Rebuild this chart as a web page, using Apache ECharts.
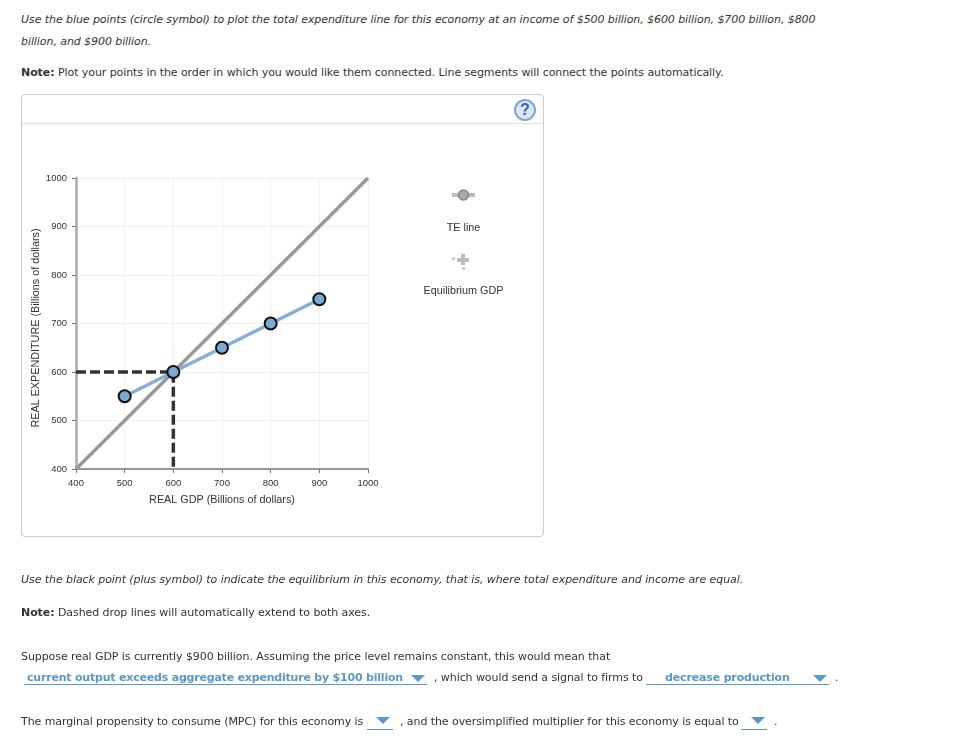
<!DOCTYPE html>
<html><head><meta charset="utf-8">
<script src="https://cdn.jsdelivr.net/npm/echarts@6/dist/echarts.min.js"></script>
<style>
html,body{margin:0;padding:0;background:#fff;}
body{width:969px;height:745px;overflow:hidden;position:relative;font-family:"DejaVu Sans",Verdana,sans-serif;font-size:11px;color:#333;letter-spacing:-0.075px;}
.t{position:absolute;white-space:nowrap;line-height:14px;}
.i{font-style:italic;}
.d{position:absolute;border-bottom:1px solid #5b97c9;height:14px;color:#5b97c9;font-weight:bold;white-space:nowrap;line-height:14px;}
.a{position:absolute;width:0;height:0;border-left:7px solid transparent;border-right:7px solid transparent;border-top:7px solid #5b97c9;}
#card{position:absolute;left:21px;top:94px;width:521px;height:441px;border:1px solid #ccc;border-radius:4px;box-sizing:content-box;}
#hr{position:absolute;left:22px;top:123px;width:521px;height:1px;background:#ddd;}
#help{position:absolute;left:514px;top:99px;width:18px;height:18px;border:2px solid #7fa6d0;border-radius:50%;background:#dbe7f3;color:#2f6ba8;font:bold 16px/18px "Liberation Sans",Arial,sans-serif;text-align:center;letter-spacing:0;}
#chart{position:absolute;left:0;top:0;width:969px;height:745px;letter-spacing:0;}
</style></head><body>
<div class="t i" style="left:21px;top:13px">Use the blue points (circle symbol) to plot the total expenditure line for this economy at an income of $500 billion, $600 billion, $700 billion, $800</div>
<div class="t i" style="left:21px;top:35px">billion, and $900 billion.</div>
<div class="t" style="left:21px;top:66px"><b>Note:</b> Plot your points in the order in which you would like them connected. Line segments will connect the points automatically.</div>
<div id="card"></div><div id="hr"></div><div id="help">?</div>
<div id="chart"></div>
<div class="t i" style="left:21px;top:573px">Use the black point (plus symbol) to indicate the equilibrium in this economy, that is, where total expenditure and income are equal.</div>
<div class="t" style="left:21px;top:606px"><b>Note:</b> Dashed drop lines will automatically extend to both axes.</div>
<div class="t" style="left:21px;top:650px">Suppose real GDP is currently $900 billion. Assuming the price level remains constant, this would mean that</div>
<div class="d" style="left:24px;top:671px;width:403px;padding-left:3px;box-sizing:border-box;letter-spacing:-0.2px">current output exceeds aggregate expenditure by $100 billion</div><div class="a" style="left:411px;top:675px"></div>
<div class="t" style="left:434px;top:671px">, which would send a signal to firms to</div>
<div class="d" style="left:646px;top:671px;width:183px;padding-left:19px;box-sizing:border-box;letter-spacing:-0.15px">decrease production</div><div class="a" style="left:813px;top:675px"></div>
<div class="t" style="left:835px;top:671px">.</div>
<div class="t" style="left:21px;top:715px">The marginal propensity to consume (MPC) for this economy is</div>
<div class="d" style="left:367px;top:715px;width:26px"></div><div class="a" style="left:376px;top:717px"></div>
<div class="t" style="left:400px;top:715px">, and the oversimplified multiplier for this economy is equal to</div>
<div class="d" style="left:741px;top:715px;width:26px"></div><div class="a" style="left:751px;top:717px"></div>
<div class="t" style="left:774px;top:715px">.</div>
<script>
var gdpTicks = [400, 500, 600, 700, 800, 900, 1000];
var teX = [500, 600, 700, 800, 900];
var teY = [550, 600, 650, 700, 750];
var lineX = [400, 1000];
var lineY = [400, 1000];
var dropX = [400, 600, 600];
var dropY = [600, 600, 400];
var xName = 'REAL GDP (Billions of dollars)';
var yName = 'REAL EXPENDITURE (Billions of dollars)';
var legendNames = ['TE line', 'Equilibrium GDP'];
function zip(a, b) { return a.map(function (v, i) { return [v, b[i]]; }); }
var font = '"Liberation Sans",Arial,sans-serif';
var chart = echarts.init(document.getElementById('chart'), null, { renderer: 'canvas' });
function axis(name, gap, lineStyle, rot, pad) {
  return {
    type: 'value', min: gdpTicks[0], max: gdpTicks[gdpTicks.length - 1], interval: 100,
    name: name, nameLocation: 'middle', nameGap: gap, nameRotate: rot,
    nameTextStyle: { fontFamily: font, fontSize: 10.8, color: '#333', padding: pad },
    axisLine: { show: true, onZero: false, lineStyle: lineStyle },
    axisTick: { show: true, length: 4, lineStyle: { color: '#777', width: 1 } },
    axisLabel: { fontFamily: font, fontSize: 9.5, color: '#333', margin: 9, formatter: function (v) { return String(v); } },
    splitLine: { show: true, lineStyle: { color: '#f1f1f1', width: 1 } }
  };
}
chart.setOption({
  animation: false,
  grid: { left: 76, top: 178, width: 292, height: 291, containLabel: false },
  xAxis: axis(xName, 26, { color: '#777', width: 1.5 }, 0, 0),
  yAxis: axis(yName, 34, { color: '#aaa', width: 2.5 }, 90, [0, 9, 0, 0]),
  series: [
    { name: '45', type: 'line', data: zip(lineX, lineY), symbol: 'none', z: 3,
      lineStyle: { color: '#999', width: 3.5 } },
    { name: 'drop', type: 'line', data: zip(dropX, dropY), symbol: 'none', z: 4,
      lineStyle: { color: '#333', width: 3.5, type: [10, 4] } },
    { name: 'TE line', type: 'line', data: zip(teX, teY), symbol: 'circle', symbolSize: 12, z: 5,
      lineStyle: { color: '#85aed6', width: 3.5 },
      itemStyle: { color: '#7aa9d4', borderColor: '#111', borderWidth: 2 } }
  ],
  graphic: [
    { type: 'rect', shape: { x: 452, y: 193, width: 23, height: 4 }, style: { fill: '#bbb' } },
    { type: 'circle', shape: { cx: 463.5, cy: 195, r: 5 }, style: { fill: '#aaa', stroke: '#888', lineWidth: 1.5 } },
    { type: 'text', x: 463.5, y: 223, style: { text: legendNames[0], fill: '#333', font: '10.8px ' + font, align: 'center' } },
    { type: 'rect', shape: { x: 452, y: 257, width: 3, height: 3 }, style: { fill: '#ccc' } },
    { type: 'rect', shape: { x: 457, y: 258, width: 12, height: 4 }, style: { fill: '#bbb' } },
    { type: 'rect', shape: { x: 461, y: 254, width: 4, height: 11 }, style: { fill: '#bbb' } },
    { type: 'rect', shape: { x: 462, y: 267, width: 3, height: 3 }, style: { fill: '#ccc' } },
    { type: 'text', x: 463.5, y: 286, style: { text: legendNames[1], fill: '#333', font: '10.8px ' + font, align: 'center' } }
  ]
});
</script>
</body></html>
